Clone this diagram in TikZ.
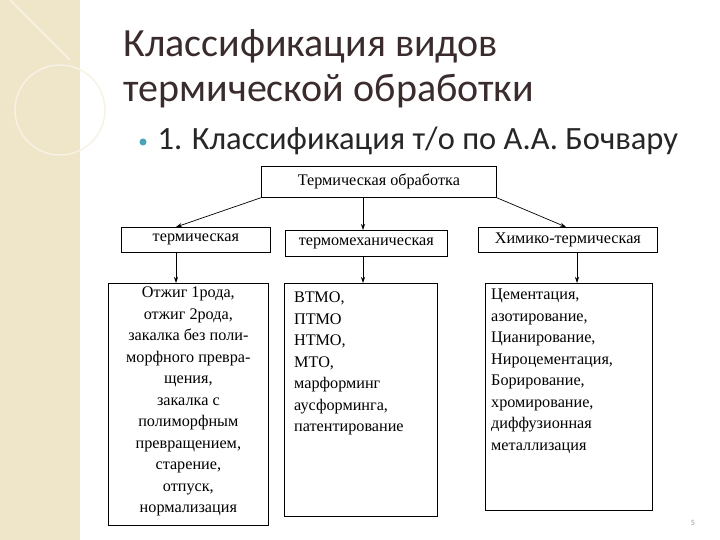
\documentclass[tikz,border=0pt]{standalone}
\usepackage{fontspec}
\setmainfont{Liberation Serif}
\newfontfamily\slidefont{Carlito}
\usetikzlibrary{arrows.meta}
\definecolor{strip}{HTML}{EFE5C9}
\definecolor{titlecol}{HTML}{3A2C2C}
\definecolor{bulletcol}{HTML}{4BA3B5}
\tikzset{
  box/.style={draw, line width=0.7pt, inner sep=0pt, anchor=north west},
  boxtext/.style={font=\fontsize{16.2}{21.5}\selectfont, align=#1, inner sep=0pt},
  link/.style={-{Stealth[length=6pt,width=4pt]}, line width=0.7pt}
}
\begin{document}
\begin{tikzpicture}[x=1pt, y=-1pt]
      \useasboundingbox (0,0) rectangle (720,540);
      % background strip
      \fill[strip] (0,0) rectangle (80,540);
      \draw[white!50!strip, line width=1.5pt] (60,110) circle (45);
      \draw[white!50!strip, line width=1.5pt] (10,0) -- (70,60);
      % title
      \node[anchor=base west, text=titlecol, font=\slidefont\fontsize{40}{46}\selectfont] (title1) at (120,57) {Классификация видов};
      \node[anchor=base west, text=titlecol, font=\slidefont\fontsize{40}{46}\selectfont] (title2) at (120,102) {термической обработки};
      \fill[bulletcol] (143,142) circle (3.5);
      \node[anchor=base west, text=black!85, font=\slidefont\fontsize{32.5}{38}\selectfont] (sub) at (154,150) {1. Классификация т/о по А.А. Бочвару};
      % boxes
      \node[box, minimum width=235, minimum height=31] (top) at (261,166) {};
      \node[boxtext=center] at (top.center) {Термическая обработка};
      \node[box, minimum width=149, minimum height=25] (therm) at (121,227) {};
      \node[boxtext=center] at (therm.center) {термическая};
      \node[box, minimum width=162, minimum height=26] (mech) at (285,230) {};
      \node[boxtext=center] at (mech.center) {термомеханическая};
      \node[box, minimum width=179, minimum height=25] (chem) at (478,227) {};
      \node[boxtext=center] at (chem.center) {Химико-термическая};
      \node[box, minimum width=160, minimum height=242] (thermlist) at (108,283) {};
      \node[boxtext=center, anchor=north] at ([yshift=-4]thermlist.north) {Отжиг 1рода,\\отжиг 2рода,\\закалка без поли-\\морфного превра-\\щения,\\закалка с\\полиморфным\\превращением,\\старение,\\отпуск,\\нормализация};
      \node[box, minimum width=153, minimum height=233] (mechlist) at (284,283) {};
      \node[boxtext=left, anchor=north west] at ([xshift=10,yshift=-9]mechlist.north west) {ВТМО,\\ПТМО\\НТМО,\\МТО,\\марформинг\\аусформинга,\\патентирование};
      \node[box, minimum width=167, minimum height=227] (chemlist) at (485,283) {};
      \node[boxtext=left, anchor=north west] at ([xshift=6,yshift=-6]chemlist.north west) {Цементация,\\азотирование,\\Цианирование,\\Нироцементация,\\Борирование,\\хромирование,\\диффузионная\\металлизация};
      % arrows
      \draw[link] (top.south west) -- (therm.north -| 176,0);
      \draw[link] (top.south -| 363,0) -- (mech.north -| 363,0);
      \draw[link] (top.south east) -- (chem.north -| 566,0);
      \draw[link] (therm.south -| 176,0) -- (thermlist.north -| 176,0);
      \draw[link] (mech.south -| 363,0) -- (mechlist.north -| 363,0);
      \draw[link] (chem.south -| 577,0) -- (chemlist.north -| 577,0);
      \node[text=black!40, font=\slidefont\fontsize{8}{9}\selectfont] (pagenum) at (693,523) {5};
\end{tikzpicture}
\end{document}
